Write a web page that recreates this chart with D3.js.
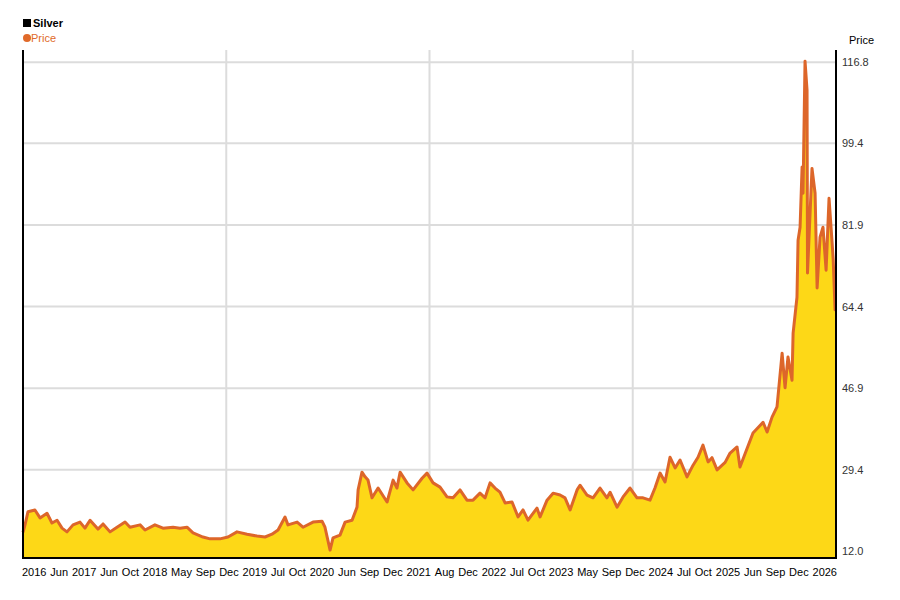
<!DOCTYPE html>
<html><head><meta charset="utf-8">
<script src="https://cdn.jsdelivr.net/npm/d3@7"></script>
<style>body{margin:0;background:#fff}svg{font-family:"Liberation Sans",Arial,sans-serif}</style>
</head><body><svg id="c" width="900" height="600"></svg>
<script>
const weeks = [0,1.3,3.2,7.7,11,15.5,18.7,22,25.2,28.4,32.3,36.8,40,43.3,48.4,51.7,56.2,60.7,65.9,69.1,75.6,78.8,85.2,90.4,96.9,101.4,105.9,109.8,116.2,120.8,127.2,132.4,138.2,144.7,151.1,156.3,160.8,164.7,169.2,171.1,177,180.8,187.3,193.1,195,198.3,200.2,204.7,208,212.5,215.7,216.4,218.9,220.9,222.8,225.4,229.3,235.1,239,241.5,243.5,248,251.9,257.7,260.9,264.8,269.3,273.8,277.7,282.2,286.7,290.6,295.1,298.4,301.6,304.8,308,311.3,315.8,319.7,322.9,326.1,331.9,333.9,338.4,342.3,346.8,350,353.3,357.8,359.7,364.2,368.1,372.6,377.1,379.1,383.6,387.5,392,396.5,400.4,404.9,408.1,411.4,414.6,417.8,421.1,424.3,428.8,432.7,435.9,439.1,442.4,444.9,448.2,453.4,456.6,461.1,463,471.4,477.9,480.5,483.7,486.9,490.2,492.1,494,496.6,497.3,499.8,500.5,501.8,503.1,503.7,505,506.3,506.6,509.5,511.5,512.8,514.7,516.6,518.6,520.5,522.5,523.2,524.4,525];
const prices = [16,17.6,20.4,20.8,19.1,20.1,18,18.6,16.9,16.1,17.6,18.2,16.9,18.6,16.7,17.8,16.1,17.1,18.2,17.1,17.6,16.5,17.6,16.9,17.1,16.9,17.1,15.9,15,14.6,14.6,15,16.1,15.6,15.2,15,15.6,16.5,19.3,17.6,18.2,17.1,18.2,18.4,17.1,12.2,14.8,15.4,18.2,18.6,21.4,25.1,28.9,27.9,27.2,23.4,25.5,22.5,27.2,25.5,28.9,26.6,25.1,27.6,28.7,26.6,25.7,23.6,23.4,25.1,22.9,22.9,24.4,23.4,26.6,25.5,24.6,22.3,22.5,19.3,20.8,18.6,21.2,19.3,22.9,24.4,24,23.4,20.8,25.1,26.1,24,23.4,25.5,23.4,24.6,21.4,23.6,25.5,23.4,23.4,22.9,25.5,28.7,26.8,32.1,29.8,31.5,27.9,30.4,32.1,34.7,31.1,32,29.4,31,33,34.3,30,37.3,39.6,37.5,40.7,42.9,54.4,47,53.6,48.6,58.7,66.4,78.6,81.4,94.3,88.7,117,110.8,71.6,94,88.7,68.4,79.3,81.4,72.2,87.6,78,74.4,63.7,63.7];
const xLabels = ["2016","Jun","2017","Jun","Oct","2018","May","Sep","Dec","2019","Jul","Oct","2020","Jun","Sep","Dec","2021","Aug","Dec","2022","Jul","Oct","2023","May","Sep","Dec","2024","Jul","Oct","2025","Jun","Sep","Dec","2026"];
const yTicks = ["12.0","29.4","46.9","64.4","81.9","99.4","116.8"];

const svg = d3.select("#c");
const L=23,R=836,T=50,B=558;
const x = d3.scaleLinear().domain([0,525]).range([L,R]);
const y = d3.scaleLinear().domain([10.5,119.4]).range([B,T]);
const data = weeks.map((w,i)=>({w,p:prices[i]}));

const g = svg.append("g");
g.selectAll(".hg").data(yTicks).join("line").attr("x1",L).attr("x2",R)
 .attr("y1",d=>y(+d)).attr("y2",d=>y(+d)).attr("stroke","#dcdcdc").attr("stroke-width",2);
g.selectAll(".vg").data([0.25,0.5,0.75]).join("line").attr("y1",T).attr("y2",B)
 .attr("x1",d=>x(525*d)).attr("x2",d=>x(525*d)).attr("stroke","#dcdcdc").attr("stroke-width",2);

svg.append("path").datum(data).attr("fill","#fdd817")
 .attr("d",d3.area().x(d=>x(d.w)).y0(B).y1(d=>y(d.p)));
svg.append("path").datum(data).attr("fill","none").attr("stroke","#dd662a").attr("stroke-width",3).attr("stroke-linejoin","round")
 .attr("d",d3.line().x(d=>x(d.w)).y(d=>y(d.p)));

svg.append("line").attr("x1",L).attr("x2",L).attr("y1",T).attr("y2",B+1).attr("stroke","#000").attr("stroke-width",2);
svg.append("line").attr("x1",R).attr("x2",R).attr("y1",T).attr("y2",B+1).attr("stroke","#000").attr("stroke-width",2);
svg.append("line").attr("x1",L).attr("x2",R).attr("y1",B).attr("y2",B).attr("stroke","#000").attr("stroke-width",2);

svg.selectAll(".yt").data(yTicks).join("text").attr("x",842).attr("y",d=>y(+d)+4)
 .attr("font-size",11).attr("fill","#333").text(d=>d);
const xt = svg.selectAll(".xt").data(xLabels).join("text").attr("y",576)
 .attr("font-size",11).attr("fill","#000").text(d=>d);
const widths = xt.nodes().map(n=>n.getComputedTextLength());
const total = d3.sum(widths), gap = (837-22-total)/(xLabels.length-1);
let cx = 22;
xt.each(function(d,i){ d3.select(this).attr("x",cx); cx += widths[i]+gap; });
svg.append("text").attr("x",849).attr("y",44).attr("font-size",11).text("Price");
svg.append("rect").attr("x",23).attr("y",19).attr("width",8).attr("height",8).attr("fill","#000");
svg.append("text").attr("x",33).attr("y",27).attr("font-size",11).attr("font-weight","bold").text("Silver");
svg.append("circle").attr("cx",27).attr("cy",38).attr("r",4).attr("fill","#e06a2a");
svg.append("text").attr("x",31).attr("y",42).attr("font-size",11).attr("fill","#e06a2a").text("Price");
</script></body></html>
